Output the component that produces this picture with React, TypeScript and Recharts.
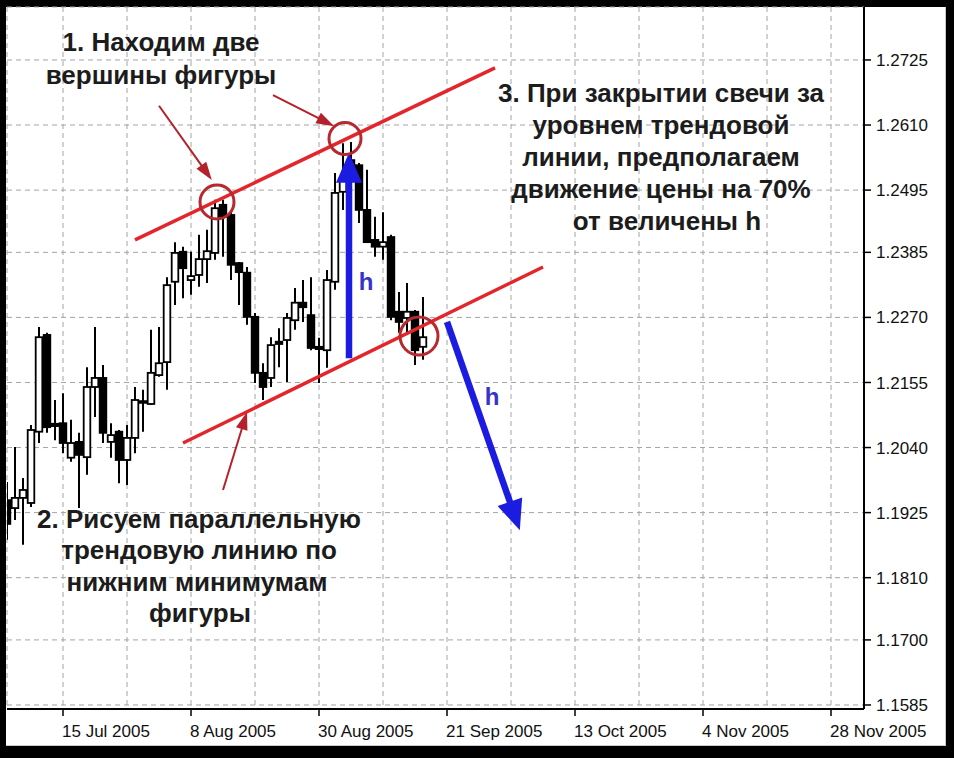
import React from "react";
import {
  ComposedChart,
  Bar,
  XAxis,
  YAxis,
  CartesianGrid,
  ReferenceLine,
  ReferenceDot,
} from "recharts";

// bar index 0 = 15 Jul 2005, one step per trading day
const firstIndex = -7;
const opens = [
  1.1947, 1.1933, 1.1951, 1.1942, 1.2068, 1.2239, 1.2082, 1.2083, 1.2022, 1.205,
  1.2023, 1.2147, 1.2163, 1.205, 1.2068, 1.2018, 1.2057, 1.2122, 1.2117, 1.2168,
  1.2191, 1.2333, 1.2386, 1.2336, 1.2345, 1.2373, 1.2384, 1.2469, 1.2451, 1.2366,
  1.2349, 1.2271, 1.2172, 1.2163, 1.2227, 1.223, 1.2265, 1.2296, 1.2274, 1.2218,
  1.2212, 1.2333, 1.2492, 1.2548, 1.2539, 1.246, 1.2407, 1.2395, 1.2412, 1.228,
  1.2269, 1.228, 1.2218,
];
const closes = [
  1.1905, 1.1951, 1.1965, 1.2071, 1.2235, 1.2076, 1.2078, 1.2048, 1.2048, 1.2027,
  1.2147, 1.2163, 1.2066, 1.2062, 1.2018, 1.2057, 1.2124, 1.2119, 1.2172, 1.2189,
  1.2327, 1.2384, 1.2357, 1.2343, 1.2373, 1.2387, 1.2463, 1.2448, 1.2363, 1.235,
  1.2271, 1.2172, 1.2147, 1.2221, 1.2223, 1.2269, 1.2296, 1.2288, 1.2216, 1.2214,
  1.2336, 1.249, 1.2513, 1.2522, 1.246, 1.2403, 1.2395, 1.2403, 1.2271, 1.2262,
  1.228, 1.2212, 1.2235,
];
const highs = [
  1.1979, 1.2041, 1.1986, 1.208, 1.2253, 1.2243, 1.2124, 1.2136, 1.2089, 1.2066,
  1.2182, 1.2253, 1.2186, 1.2083, 1.2071, 1.208, 1.2147, 1.2142, 1.2248, 1.2253,
  1.2341, 1.2403, 1.2395, 1.2386, 1.2416, 1.2425, 1.2478, 1.2478, 1.246, 1.2368,
  1.2359, 1.2278, 1.2189, 1.2235, 1.2251, 1.2278, 1.2322, 1.2336, 1.2341, 1.2234,
  1.2354, 1.2525, 1.2578, 1.258, 1.2543, 1.2531, 1.2448, 1.2456, 1.2416, 1.2315,
  1.2331, 1.2283, 1.2306,
];
const lows = [
  1.1877, 1.1912, 1.1868, 1.1935, 1.2048, 1.2066, 1.2053, 1.203, 1.2015, 1.1933,
  1.1992, 1.2094, 1.2048, 1.2022, 1.1977, 1.1974, 1.203, 1.2068, 1.2115, 1.2165,
  1.2142, 1.2292, 1.2304, 1.231, 1.2324, 1.2331, 1.2372, 1.2377, 1.2336, 1.2292,
  1.2257, 1.2154, 1.2124, 1.2147, 1.2182, 1.2156, 1.2248, 1.2262, 1.2212, 1.2154,
  1.2181, 1.2319, 1.246, 1.2478, 1.2437, 1.2402, 1.2377, 1.2372, 1.2265, 1.2243,
  1.2243, 1.2186, 1.2195,
];

const priceTicks = [
  1.1585, 1.17, 1.181, 1.1925, 1.204, 1.2155, 1.227, 1.2385, 1.2495, 1.261, 1.2725,
];
const gridIndexes = [0, 8, 16, 24, 32, 40, 48, 56, 64, 72, 80, 88, 96];
const dateTickIndexes = [0, 16, 32, 48, 64, 80, 96];
const dateTickLabels = [
  "15 Jul 2005",
  "8 Aug 2005",
  "30 Aug 2005",
  "21 Sep 2005",
  "13 Oct 2005",
  "4 Nov 2005",
  "28 Nov 2005",
];

// annotation geometry, in bar index / price units
const upperTrend = [{ x: 9, y: 1.2407 }, { x: 54, y: 1.2711 }];
const lowerTrend = [{ x: 15, y: 1.2048 }, { x: 60, y: 1.2359 }];
const peakCircles = [
  { x: 19.25, y: 1.2474, r: 17 },
  { x: 35.25, y: 1.2586, r: 16 },
  { x: 44.5, y: 1.2237, r: 19 },
];
const redArrows = [
  [{ x: 12, y: 1.2644 }, { x: 18.6, y: 1.2513 }],
  [{ x: 26.25, y: 1.2663 }, { x: 33.9, y: 1.2608 }],
  [{ x: 20, y: 1.1965 }, { x: 23, y: 1.2103 }],
];
const blueArrows = [
  [{ x: 35.75, y: 1.2198 }, { x: 35.75, y: 1.2561 }],
  [{ x: 48, y: 1.2262 }, { x: 57.1, y: 1.1894 }],
];

const candles = opens.map((o, k) => ({
  i: firstIndex + k,
  open: o,
  close: closes[k],
  high: highs[k],
  low: lows[k],
}));

const Candle = (props: any) => {
  const { x, y, width, height, payload } = props;
  const { open, close, high, low } = payload;
  const cx = x + width / 2;
  const k = height / (high - low);
  const yO = y + (high - open) * k;
  const yC = y + (high - close) * k;
  const up = close >= open;
  const top = Math.min(yO, yC);
  const h = Math.max(Math.abs(yO - yC), 1.5);
  return (
    <g>
      <line x1={cx} x2={cx} y1={y} y2={y + height} stroke="#000" strokeWidth={2} />
      <rect
        x={cx - 3.3}
        y={top}
        width={6.6}
        height={h}
        fill={up ? "#fff" : "#000"}
        stroke="#000"
        strokeWidth={1.8}
      />
    </g>
  );
};

const arrowShape = (color: string, w: number, headLen: number, headW: number) =>
  (p: any) => {
    const { x1, y1, x2, y2 } = p;
    const a = Math.atan2(y2 - y1, x2 - x1);
    const c = Math.cos(a);
    const s = Math.sin(a);
    const bx = x2 - headLen * c;
    const by = y2 - headLen * s;
    const pts = [
      [x2, y2],
      [bx - (s * headW) / 2, by + (c * headW) / 2],
      [bx + (s * headW) / 2, by - (c * headW) / 2],
    ]
      .map((q) => q.join(","))
      .join(" ");
    return (
      <g>
        <line x1={x1} y1={y1} x2={bx + c * 2} y2={by + s * 2} stroke={color} strokeWidth={w} />
        <polygon points={pts} fill={color} />
      </g>
    );
  };

const DateTick = (props: any) => {
  const { x, y, payload } = props;
  const n = dateTickIndexes.indexOf(payload.value);
  if (n < 0) return null;
  return (
    <g>
      <line x1={x} x2={x} y1={y} y2={y + 7} stroke="#000" strokeWidth={1.5} />
      <text
        x={x - 1}
        y={y + 28}
        fontSize={17}
        fontFamily="Liberation Sans, Arial, sans-serif"
        fill="#111"
      >
        {dateTickLabels[n]}
      </text>
    </g>
  );
};

const noteFont = {
  fontFamily: "Liberation Sans, Arial, sans-serif",
  fontWeight: 700,
  fontSize: 26,
  fill: "#1c1c1c",
  textAnchor: "middle" as const,
};

const App = () => {
  return (
    <div
      style={{
        position: "absolute",
        left: 0,
        top: 0,
        width: 954,
        height: 758,
        background: "#000",
      }}
    >
      <div
        style={{
          position: "absolute",
          left: 6,
          top: 7,
          width: 939,
          height: 738,
          background: "#fff",
          borderRight: "1px solid #c8c8c8",
          borderBottom: "1px solid #c8c8c8",
        }}
      />
      <div style={{ position: "absolute", left: 0, top: 0 }}>
        <ComposedChart
          width={954}
          height={758}
          data={candles}
          margin={{ top: 7, left: 7, right: 8, bottom: 12 }}
        >
          <CartesianGrid stroke="#a4a4a4" strokeDasharray="5 4" />
          <XAxis
            dataKey="i"
            type="number"
            domain={[-7, 100.125]}
            ticks={gridIndexes}
            interval={0}
            height={37}
            tickSize={0}
            tickMargin={0}
            tick={DateTick}
            axisLine={{ stroke: "#000", strokeWidth: 2 }}
            allowDataOverflow
          />
          <YAxis
            orientation="right"
            type="number"
            domain={[1.15779, 1.28186]}
            ticks={priceTicks}
            interval={0}
            width={82}
            tickSize={7}
            tickMargin={5}
            tickFormatter={(v: number) => v.toFixed(4)}
            tick={{ fontSize: 17, fill: "#111", fontFamily: "Liberation Sans, Arial, sans-serif" }}
            tickLine={{ stroke: "#000", strokeWidth: 1.5 }}
            axisLine={{ stroke: "#000", strokeWidth: 2 }}
            allowDataOverflow
          />
          <Bar
            dataKey={(d: any) => [d.low, d.high]}
            barSize={6}
            shape={Candle}
            isAnimationActive={false}
          />
          <ReferenceLine segment={upperTrend} stroke="#e3262c" strokeWidth={3.5} />
          <ReferenceLine segment={lowerTrend} stroke="#e3262c" strokeWidth={3.5} />
          {redArrows.map((seg, k) => (
            <ReferenceLine
              key={"ra" + k}
              segment={seg}
              stroke="#b3222a"
              shape={arrowShape("#b3222a", 2, 18, 12)}
            />
          ))}
          {peakCircles.map((c, k) => (
            <ReferenceDot
              key={"pc" + k}
              x={c.x}
              y={c.y}
              r={c.r}
              fill="none"
              stroke="#b8282f"
              strokeWidth={3}
            />
          ))}
          {blueArrows.map((seg, k) => (
            <ReferenceLine
              key={"ba" + k}
              segment={seg}
              stroke="#1c1ce0"
              shape={arrowShape("#1c1ce0", 6.5, 30, 26)}
            />
          ))}
        </ComposedChart>
      </div>
      <svg
        width={954}
        height={758}
        style={{ position: "absolute", left: 0, top: 0, pointerEvents: "none" }}
      >
        <g {...noteFont}>
          <text x={161} y={51}>1. Находим две</text>
          <text x={161} y={84}>вершины фигуры</text>
        </g>
        <g {...noteFont}>
          <text x={199} y={528}>2. Рисуем параллельную</text>
          <text x={199} y={559}>трендовую линию по</text>
          <text x={197} y={591}>нижним минимумам</text>
          <text x={200} y={622}>фигуры</text>
        </g>
        <g {...noteFont}>
          <text x={661} y={102}>3. При закрытии свечи за</text>
          <text x={661} y={134}>уровнем трендовой</text>
          <text x={661} y={166}>линии, предполагаем</text>
          <text x={661} y={198}>движение цены на 70%</text>
          <text x={667} y={230}>от величены h</text>
        </g>
        <g {...noteFont} fontSize={24} fill="#3434c8">
          <text x={366} y={290}>h</text>
          <text x={492} y={405}>h</text>
        </g>
      </svg>
    </div>
  );
};

export default App;
